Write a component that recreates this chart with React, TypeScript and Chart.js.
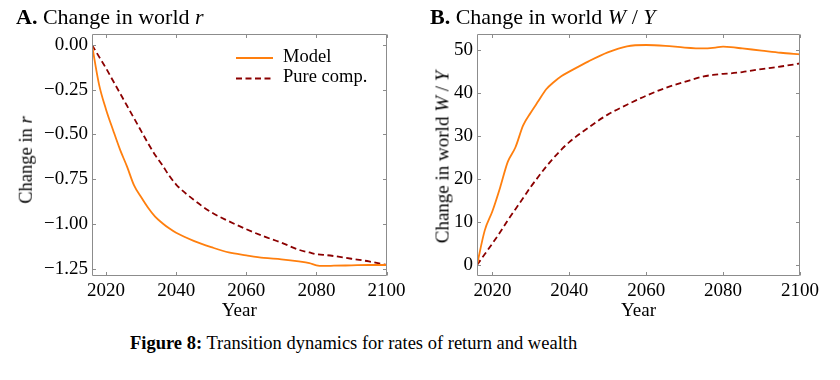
import React, { useEffect, useRef } from "react";
import { Chart, registerables } from "chart.js";
Chart.register(...registerables);

const years = [2016, 2018, 2020, 2022, 2024, 2026, 2028, 2030, 2032, 2034, 2036, 2038, 2040, 2045, 2050, 2055, 2060, 2065, 2070, 2075, 2078, 2080, 2082, 2085, 2090, 2095, 2100];
const rModel = [0, -0.22, -0.36, -0.475, -0.585, -0.68, -0.785, -0.85, -0.91, -0.96, -0.995, -1.025, -1.05, -1.095, -1.13, -1.16, -1.176, -1.19, -1.198, -1.21, -1.22, -1.232, -1.235, -1.234, -1.232, -1.23, -1.23];
const rPure = [0, -0.065, -0.13, -0.2, -0.27, -0.34, -0.41, -0.48, -0.55, -0.615, -0.67, -0.73, -0.78, -0.865, -0.935, -0.985, -1.03, -1.07, -1.105, -1.145, -1.16, -1.17, -1.173, -1.18, -1.195, -1.21, -1.23];
const wyModel = [0, 8, 12.5, 18, 24, 27.4, 32.5, 35.5, 38.2, 40.9, 42.6, 44, 45, 47.4, 49.5, 50.9, 51.2, 51, 50.6, 50.4, 50.6, 50.8, 50.7, 50.4, 49.9, 49.4, 49.0];
const wyPure = [0, 2.5, 5, 7.6, 10.4, 13, 15.6, 18.2, 20.6, 22.9, 25, 26.9, 28.6, 32, 35, 37.3, 39.4, 41.2, 42.6, 43.9, 44.3, 44.5, 44.6, 44.9, 45.6, 46.2, 46.9];
const xTicks = [2020, 2040, 2060, 2080, 2100];
const rTicks = [0, -0.25, -0.5, -0.75, -1, -1.25];
const wyTicks = [0, 10, 20, 30, 40, 50];
const seriesLabels = ["Model", "Pure comp."];

const FONT = '"Liberation Serif", "Times New Roman", serif';
const ORANGE = "#ff7f0e";
const DARKRED = "#8b0000";
const FRAME = "#8c8c8c";

const framePlugin = {
  id: "frameTicks",
  afterDatasetsDraw(chart: any) {
    const { ctx, chartArea: a, scales } = chart;
    const L = 3.5;
    const l = Math.round(a.left) + 0.5;
    const r = Math.round(a.right) - 0.5;
    const t = Math.round(a.top) + 0.5;
    const b = Math.round(a.bottom) - 0.5;
    ctx.save();
    ctx.strokeStyle = FRAME;
    ctx.lineWidth = 1;
    ctx.beginPath();
    ctx.rect(l, t, r - l, b - t);
    scales.x.ticks.forEach((tk: any) => {
      const px = Math.round(scales.x.getPixelForValue(tk.value)) + 0.5;
      ctx.moveTo(px, b);
      ctx.lineTo(px, b - L);
      ctx.moveTo(px, t);
      ctx.lineTo(px, t + L);
    });
    scales.y.ticks.forEach((tk: any) => {
      const py = Math.round(scales.y.getPixelForValue(tk.value)) + 0.5;
      ctx.moveTo(l, py);
      ctx.lineTo(l + L, py);
      ctx.moveTo(r, py);
      ctx.lineTo(r - L, py);
    });
    ctx.stroke();
    ctx.restore();
  },
};

function makeConfig(
  model: number[],
  pure: number[],
  yTicks: number[],
  yMin: number,
  yMax: number,
  yWidth: number,
  padRight: number,
  fmt: (v: number) => string
): any {
  const tickFont = { family: FONT, size: 19 };
  return {
    type: "line",
    data: {
      datasets: [
        {
          label: seriesLabels[0],
          data: years.map((y, i) => ({ x: y, y: model[i] })),
          borderColor: ORANGE,
          borderWidth: 1.8,
          pointRadius: 0,
          fill: false,
          cubicInterpolationMode: "monotone",
        },
        {
          label: seriesLabels[1],
          data: years.map((y, i) => ({ x: y, y: pure[i] })),
          borderColor: DARKRED,
          borderWidth: 1.8,
          borderDash: [6, 3.5],
          pointRadius: 0,
          fill: false,
          cubicInterpolationMode: "monotone",
        },
      ],
    },
    options: {
      responsive: false,
      animation: false,
      devicePixelRatio: 1,
      layout: { padding: { left: 0, right: padRight, top: 34, bottom: 0 } },
      plugins: { legend: { display: false }, tooltip: { enabled: false } },
      scales: {
        x: {
          type: "linear",
          min: 2016,
          max: 2100,
          afterBuildTicks: (s: any) => {
            s.ticks = xTicks.map((v) => ({ value: v }));
          },
          afterFit: (s: any) => {
            s.height = 54;
          },
          grid: { display: false, drawTicks: false },
          border: { display: false },
          ticks: {
            font: tickFont,
            color: "#000",
            padding: 4,
            maxRotation: 0,
            autoSkip: false,
            callback: (v: any) => String(v),
          },
          title: {
            display: true,
            text: "Year",
            font: tickFont,
            color: "#000",
            padding: { top: 0, bottom: 8 },
          },
        },
        y: {
          type: "linear",
          min: yMin,
          max: yMax,
          afterBuildTicks: (s: any) => {
            s.ticks = yTicks.map((v) => ({ value: v }));
          },
          afterFit: (s: any) => {
            s.width = yWidth;
          },
          grid: { display: false, drawTicks: false },
          border: { display: false },
          ticks: {
            font: tickFont,
            color: "#000",
            padding: 4,
            autoSkip: false,
            callback: (v: any) => fmt(Number(v)),
          },
        },
      },
    },
    plugins: [framePlugin],
  };
}

const fmtR = (v: number) => (Math.abs(v) < 1e-9 ? "0.00" : v.toFixed(2).replace("-", "\u2212"));
const fmtWY = (v: number) => String(Math.round(v));

const abs = (l: number, t: number): React.CSSProperties => ({ position: "absolute", left: l, top: t, whiteSpace: "nowrap", lineHeight: 1 });

export default function App() {
  const refA = useRef<HTMLCanvasElement>(null);
  const refB = useRef<HTMLCanvasElement>(null);
  useEffect(() => {
    const a = new Chart(refA.current!, makeConfig(rModel, rPure, rTicks, -1.2915, 0.0615, 92, 33.5, fmtR));
    const b = new Chart(refB.current!, makeConfig(wyModel, wyPure, wyTicks, -2.56, 53.76, 57, 40, fmtWY));
    return () => {
      a.destroy();
      b.destroy();
    };
  }, []);

  const rot = (cx: number, cy: number, size: number): React.CSSProperties => ({
    position: "absolute",
    left: cx,
    top: cy,
    transform: "translate(-50%, -50%) rotate(-90deg)",
    whiteSpace: "nowrap",
    lineHeight: 1,
    fontSize: size,
  });

  return (
    <div style={{ position: "fixed", left: 0, top: 0, width: 840, height: 380, background: "#fff", fontFamily: FONT, color: "#000", overflow: "hidden" }}>
      <canvas ref={refA} width={420} height={330} style={{ position: "absolute", left: 0, top: 0, width: 420, height: 330 }} />
      <canvas ref={refB} width={420} height={330} style={{ position: "absolute", left: 420, top: 0, width: 420, height: 330 }} />

      <div style={{ ...abs(16, 5.6), fontSize: 22 }}>
        <b>A.</b> Change in world <i>r</i>
      </div>
      <div style={{ ...abs(430, 5.6), fontSize: 22 }}>
        <b>B.</b> Change in world <i>W</i> / <i>Y</i>
      </div>

      <div style={rot(26, 160, 18.5)}>
        Change in <i>r</i>
      </div>
      <div style={rot(442, 157, 19)}>
        Change in world <i>W</i> / <i>Y</i>
      </div>

      <svg style={{ position: "absolute", left: 236, top: 50 }} width={37} height={40}>
        <line x1={0} y1={8} x2={37} y2={8} stroke={ORANGE} strokeWidth={1.8} />
        <line x1={0} y1={28.5} x2={37} y2={28.5} stroke={DARKRED} strokeWidth={1.8} strokeDasharray="6 3.5" />
      </svg>
      <div style={{ ...abs(283, 46.5), fontSize: 18.5 }}>{seriesLabels[0]}</div>
      <div style={{ ...abs(283, 67), fontSize: 18.5 }}>{seriesLabels[1]}</div>

      <div style={{ ...abs(130, 333.5), fontSize: 18.5 }}>
        <b>Figure 8:</b> Transition dynamics for rates of return and wealth
      </div>
    </div>
  );
}
